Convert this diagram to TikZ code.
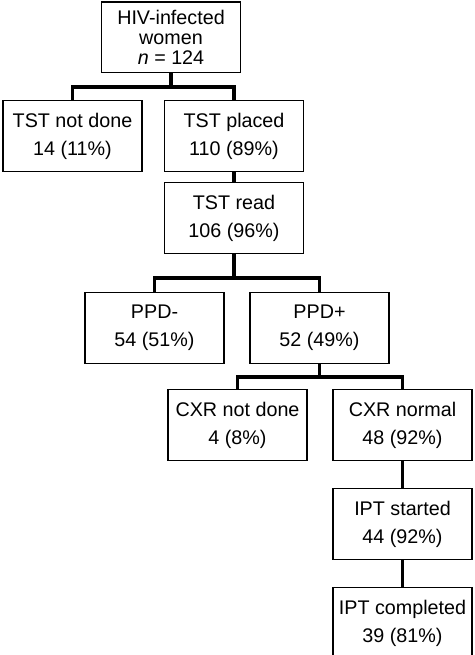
\documentclass[tikz,border=0pt]{standalone}
\usepackage{fontspec}
\setmainfont{Liberation Sans}
\usetikzlibrary{positioning}

\begin{document}
\begin{tikzpicture}[
    x=0.75pt, y=-0.75pt,
    node distance=20.25pt, % gap between stacked boxes
    box/.style={rectangle, draw, line width=1pt, align=center, minimum width=104.25pt, minimum height=53pt, inner sep=2pt, font=\fontsize{14.8}{21}\selectfont},
    link/.style={line width=2.4pt}
]
    \useasboundingbox (0,0) rectangle (474,655);

    % Nodes
    \node[box, font=\fontsize{14.8}{15}\selectfont] (hiv) at (171,37.5) {HIV-infected\\women\\\textit{n} = 124};
    \node[box] (tstno) at (72.5,136) {TST not done\\14 (11\%)};
    \node[box] (tstpl) at (234,136) {TST placed\\110 (89\%)};
    \node[box] (tstrd) at (234,218) {TST read\\106 (96\%)};
    \node[box] (ppdneg) at (154.5,328) {PPD-\\54 (51\%)};
    \node[box] (ppdpos) at (319.5,328) {PPD+\\52 (49\%)};
    \node[box] (cxrno) at (237.5,425) {CXR not done\\4 (8\%)};
    \node[box] (cxrok) at (402.5,425) {CXR normal\\48 (92\%)};
    \node[box, below=of cxrok] (iptst) {IPT started\\44 (92\%)};
    \node[box, below=of iptst] (iptco) {IPT completed\\39 (81\%)};

    % Junctions
    \coordinate (j1) at (171,87);
    \coordinate (j2) at (234,278);
    \coordinate (j3) at (319.5,377);

    % Connections
    \draw[link] (hiv) -- (j1) -| (tstno);
    \draw[link] (j1) -| (tstpl);
    \draw[link] (tstpl) -- (tstrd);
    \draw[link] (tstrd) -- (j2) -| (ppdneg);
    \draw[link] (j2) -| (ppdpos);
    \draw[link] (ppdpos) -- (j3) -| (cxrno);
    \draw[link] (j3) -| (cxrok);
    \draw[link] (cxrok) -- (iptst);
    \draw[link] (iptst) -- (iptco);
\end{tikzpicture}
\end{document}
